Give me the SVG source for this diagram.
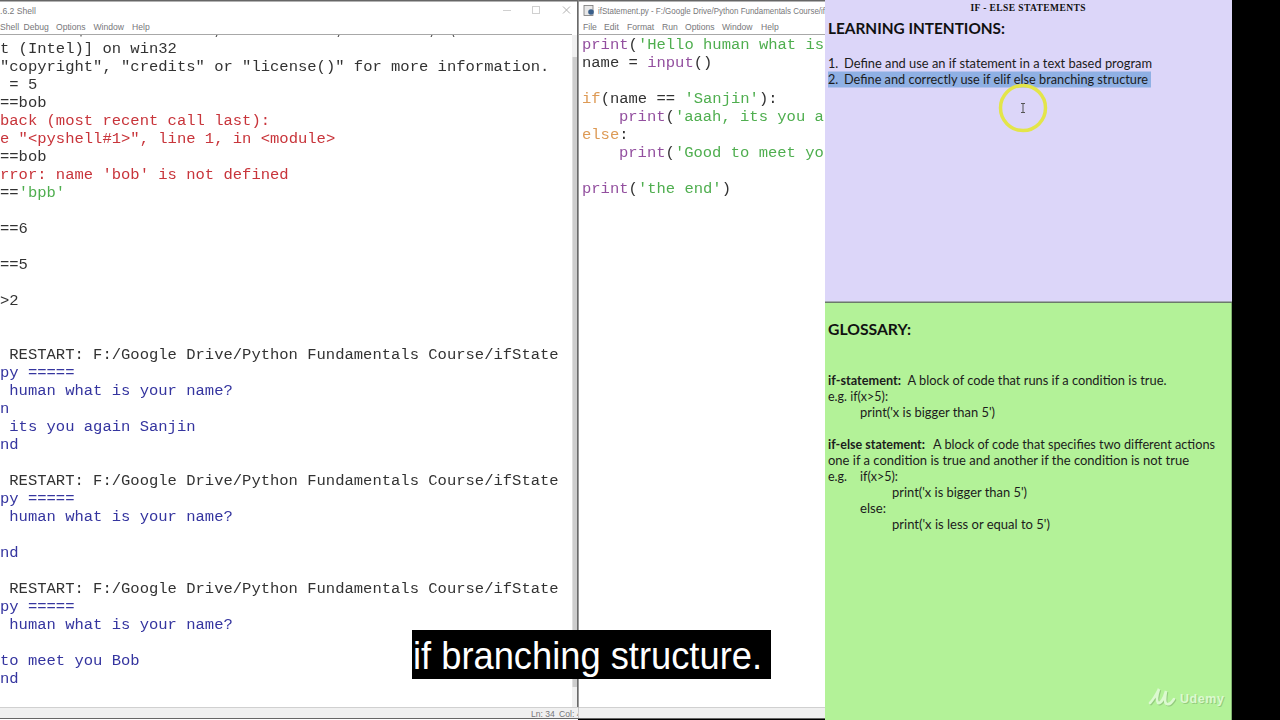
<svg xmlns="http://www.w3.org/2000/svg" width="1280" height="720" viewBox="0 0 1280 720">
<style>
.m{font-family:"Liberation Mono",monospace;font-size:15.53px;white-space:pre}
.b{fill:#34349f}.r{fill:#c8343a}.k{fill:#333}.g{fill:#4fae4f}.p{fill:#93509f}.o{fill:#dd9a55}
.u{font-family:"Liberation Sans",sans-serif;font-size:8.6px;fill:#77777a}
.c{font-family:Lato,"Open Sans",sans-serif;font-size:12.6px;fill:#1c1c1c}
.h{font-family:Lato,"Open Sans",sans-serif;font-size:16px;font-weight:700;fill:#111}
.cb{font-weight:700}
</style>
<defs>
<filter id="s" x="-5%" y="-5%" width="110%" height="110%"><feGaussianBlur stdDeviation="0.3"/></filter>
<filter id="w" x="-20%" y="-20%" width="140%" height="140%"><feGaussianBlur stdDeviation="0.7"/></filter>
</defs>
<rect width="1280" height="720" fill="#000"/>
<g id="shell-window">
<rect x="0" y="0" width="578" height="720" fill="#fff"/>
<rect x="0" y="0" width="578" height="1.500" fill="#666"/>
<rect x="0" y="34" width="572" height="1" fill="#a8a8a8"/>
<rect x="572" y="35" width="6" height="673" fill="#f0f0f0"/>
<rect x="572.500" y="57" width="5" height="630" fill="#cdcdcd"/>
<rect x="577" y="0" width="1.500" height="718" fill="#6a6a6a"/>
<rect x="0" y="708" width="578" height="10" fill="#f0f0f0"/>
<rect x="0" y="707" width="578" height="1" fill="#d0d0d0"/>
<rect x="0" y="718" width="826" height="1" fill="#666"/>
<text class="u" x="0" y="13.500">.6.2 Shell</text>
<text class="u" x="0" y="30">Shell</text>
<text class="u" x="23.500" y="30">Debug</text>
<text class="u" x="56" y="30">Options</text>
<text class="u" x="93.500" y="30">Window</text>
<text class="u" x="132" y="30">Help</text>
<path d="M503 10.500h8" stroke="#d0d0d0" fill="none"/>
<rect x="532.500" y="6.500" width="7" height="7" fill="none" stroke="#d0d0d0"/>
<path d="M563 6.500l7 7M570 6.500l-7 7" stroke="#b0b0b0" fill="none"/>
<text class="u" x="531" y="716.500" font-size="7">Ln: 34</text>
<text class="u" x="559" y="716.500" font-size="7">Col: 4</text>
<path d="M81 35v1.500M217 35l-1 2M339 35l-1 2M432 35l-1 2M453 35l1 2" stroke="#333" fill="none"/>
<g filter="url(#s)" xml:space="preserve">
<text class="m k" x="0" y="53">t (Intel)] on win32</text>
<text class="m k" x="0" y="71">"copyright", "credits" or "license()" for more information.</text>
<text class="m k" x="9.300" y="89">= 5</text>
<text class="m k" x="0" y="107">==bob</text>
<text class="m r" x="0" y="125">back (most recent call last):</text>
<text class="m r" x="0" y="143">e "&lt;pyshell#1&gt;", line 1, in &lt;module&gt;</text>
<text class="m k" x="0" y="161">==bob</text>
<text class="m r" x="0" y="179">rror: name 'bob' is not defined</text>
<text class="m" x="0" y="197"><tspan class="k">==</tspan><tspan class="g">'bpb'</tspan></text>
<text class="m k" x="0" y="233">==6</text>
<text class="m k" x="0" y="269">==5</text>
<text class="m k" x="0" y="305">&gt;2</text>
<text class="m k" x="9.300" y="359">RESTART: F:/Google Drive/Python Fundamentals Course/ifState</text>
<text class="m b" x="0" y="377">py =====</text>
<text class="m b" x="9.300" y="395">human what is your name?</text>
<text class="m b" x="0" y="413">n</text>
<text class="m b" x="9.300" y="431">its you again Sanjin</text>
<text class="m b" x="0" y="449">nd</text>
<text class="m k" x="9.300" y="485">RESTART: F:/Google Drive/Python Fundamentals Course/ifState</text>
<text class="m b" x="0" y="503">py =====</text>
<text class="m b" x="9.300" y="521">human what is your name?</text>
<text class="m b" x="0" y="557">nd</text>
<text class="m k" x="9.300" y="593">RESTART: F:/Google Drive/Python Fundamentals Course/ifState</text>
<text class="m b" x="0" y="611">py =====</text>
<text class="m b" x="9.300" y="629">human what is your name?</text>
<text class="m b" x="0" y="665">to meet you Bob</text>
<text class="m b" x="0" y="683">nd</text>
</g>
</g>
<g id="editor-window">
<rect x="578.500" y="0" width="250" height="718" fill="#fff"/>
<rect x="578.500" y="0" width="250" height="1.500" fill="#666"/>
<rect x="578.500" y="34" width="250" height="1" fill="#a8a8a8"/>
<rect x="578.500" y="708" width="250" height="10" fill="#f0f0f0"/>
<rect x="578.500" y="707" width="250" height="1" fill="#d0d0d0"/>
<rect x="584" y="5.500" width="9" height="10" fill="#e8e8e8" stroke="#777" stroke-width="0.800"/>
<circle cx="591" cy="12" r="2.800" fill="#3a5f8a"/>
<text class="u" x="598" y="13.500" textLength="227" lengthAdjust="spacingAndGlyphs">ifStatement.py - F:/Google Drive/Python Fundamentals Course/if</text>
<text class="u" x="583" y="30">File</text>
<text class="u" x="604" y="30">Edit</text>
<text class="u" x="627" y="30">Format</text>
<text class="u" x="662" y="30">Run</text>
<text class="u" x="685" y="30">Options</text>
<text class="u" x="722" y="30">Window</text>
<text class="u" x="761" y="30">Help</text>
<g filter="url(#s)" xml:space="preserve">
<text class="m" x="582" y="49"><tspan class="p">print</tspan><tspan class="k">(</tspan><tspan class="g">'Hello human what is</tspan></text>
<text class="m" x="582" y="67"><tspan class="k">name = </tspan><tspan class="p">input</tspan><tspan class="k">()</tspan></text>
<text class="m" x="582" y="103"><tspan class="o">if</tspan><tspan class="k">(name == </tspan><tspan class="g">'Sanjin'</tspan><tspan class="k">):</tspan></text>
<text class="m" x="619" y="121"><tspan class="p">print</tspan><tspan class="k">(</tspan><tspan class="g">'aaah, its you a</tspan></text>
<text class="m" x="582" y="139"><tspan class="o">else</tspan><tspan class="k">:</tspan></text>
<text class="m" x="619" y="157"><tspan class="p">print</tspan><tspan class="k">(</tspan><tspan class="g">'Good to meet yo</tspan></text>
<text class="m" x="582" y="193"><tspan class="p">print</tspan><tspan class="k">(</tspan><tspan class="g">'the end'</tspan><tspan class="k">)</tspan></text>
</g>
</g>
<g id="learning-panel">
<rect x="825" y="0" width="407" height="302" fill="#dcd6f9"/>
<rect x="828" y="71.500" width="323" height="16" fill="#8fb0e4"/>
<text x="1028" y="11" text-anchor="middle" font-family="Liberation Serif,serif" font-size="9.500" font-weight="700" fill="#111" textLength="115">IF - ELSE STATEMENTS</text>
<text class="h" x="828" y="34" textLength="177" lengthAdjust="spacingAndGlyphs">LEARNING INTENTIONS:</text>
<text class="c" x="828" y="67.500">1.</text>
<text class="c" x="844" y="67.500" textLength="308" lengthAdjust="spacingAndGlyphs">Define and use an if statement in a text based program</text>
<text class="c" x="828" y="83.500">2.</text>
<text class="c" x="844" y="83.500" textLength="304" lengthAdjust="spacingAndGlyphs">Define and correctly use if elif else branching structure</text>
<circle cx="1023" cy="108" r="22.500" fill="none" stroke="#e3e54a" stroke-width="3.500" filter="url(#w)"/>
<path d="M1021 103.500h4M1023 103.500v9M1021 112.500h4" stroke="#555" stroke-width="1" fill="none"/>
</g>
<g id="glossary-panel">
<rect x="825" y="303" width="407" height="417" fill="#b3f298"/>
<rect x="825" y="301.500" width="407" height="1.500" fill="#6b7a6a"/>
<rect x="1231" y="303" width="1" height="417" fill="#80b070"/>
<text class="h" x="828" y="335" textLength="83" lengthAdjust="spacingAndGlyphs">GLOSSARY:</text>
<text class="c cb" x="828" y="385" textLength="73" lengthAdjust="spacingAndGlyphs">if-statement:</text>
<text class="c" x="907.500" y="385" textLength="259" lengthAdjust="spacingAndGlyphs">A block of code that runs if a condition is true.</text>
<text class="c" x="828" y="401" textLength="60" lengthAdjust="spacingAndGlyphs">e.g. if(x&gt;5):</text>
<text class="c" x="860" y="417" textLength="135" lengthAdjust="spacingAndGlyphs">print('x is bigger than 5')</text>
<text class="c cb" x="828" y="449" textLength="97" lengthAdjust="spacingAndGlyphs">if-else statement:</text>
<text class="c" x="933" y="449" textLength="282" lengthAdjust="spacingAndGlyphs">A block of code that specifies two different actions</text>
<text class="c" x="828" y="465" textLength="361" lengthAdjust="spacingAndGlyphs">one if a condition is true and another if the condition is not true</text>
<text class="c" x="828" y="481" textLength="19" lengthAdjust="spacingAndGlyphs">e.g.</text>
<text class="c" x="860" y="481" textLength="38" lengthAdjust="spacingAndGlyphs">if(x&gt;5):</text>
<text class="c" x="892" y="497" textLength="135" lengthAdjust="spacingAndGlyphs">print('x is bigger than 5')</text>
<text class="c" x="860" y="513" textLength="26" lengthAdjust="spacingAndGlyphs">else:</text>
<text class="c" x="892" y="529" textLength="158" lengthAdjust="spacingAndGlyphs">print('x is less or equal to 5')</text>
<path d="M1150 703c4-4 7-10 9-14-2 6-3 11-1 14 3 1 6-5 8-12-1 6-2 12 1 13 3 1 5-2 7-5" fill="none" stroke="#94cc7e" stroke-width="2.600" stroke-linecap="round" transform="translate(1 1)"/>
<path d="M1150 703c4-4 7-10 9-14-2 6-3 11-1 14 3 1 6-5 8-12-1 6-2 12 1 13 3 1 5-2 7-5" fill="none" stroke="#dcf9d0" stroke-width="2.600" stroke-linecap="round"/>
<text x="1181" y="704" font-family="Liberation Sans,sans-serif" font-size="12.500" font-weight="700" fill="#94cc7e" textLength="44">Udemy</text>
<text x="1180" y="703" font-family="Liberation Sans,sans-serif" font-size="12.500" font-weight="700" fill="#dcf9d0" textLength="44">Udemy</text>
</g>
<g id="caption">
<rect x="412" y="630" width="359" height="49" fill="#000"/>
<text x="413" y="669" font-family="Liberation Sans,sans-serif" font-size="38" fill="#fff" textLength="349" lengthAdjust="spacingAndGlyphs">if branching structure.</text>
</g>
</svg>
